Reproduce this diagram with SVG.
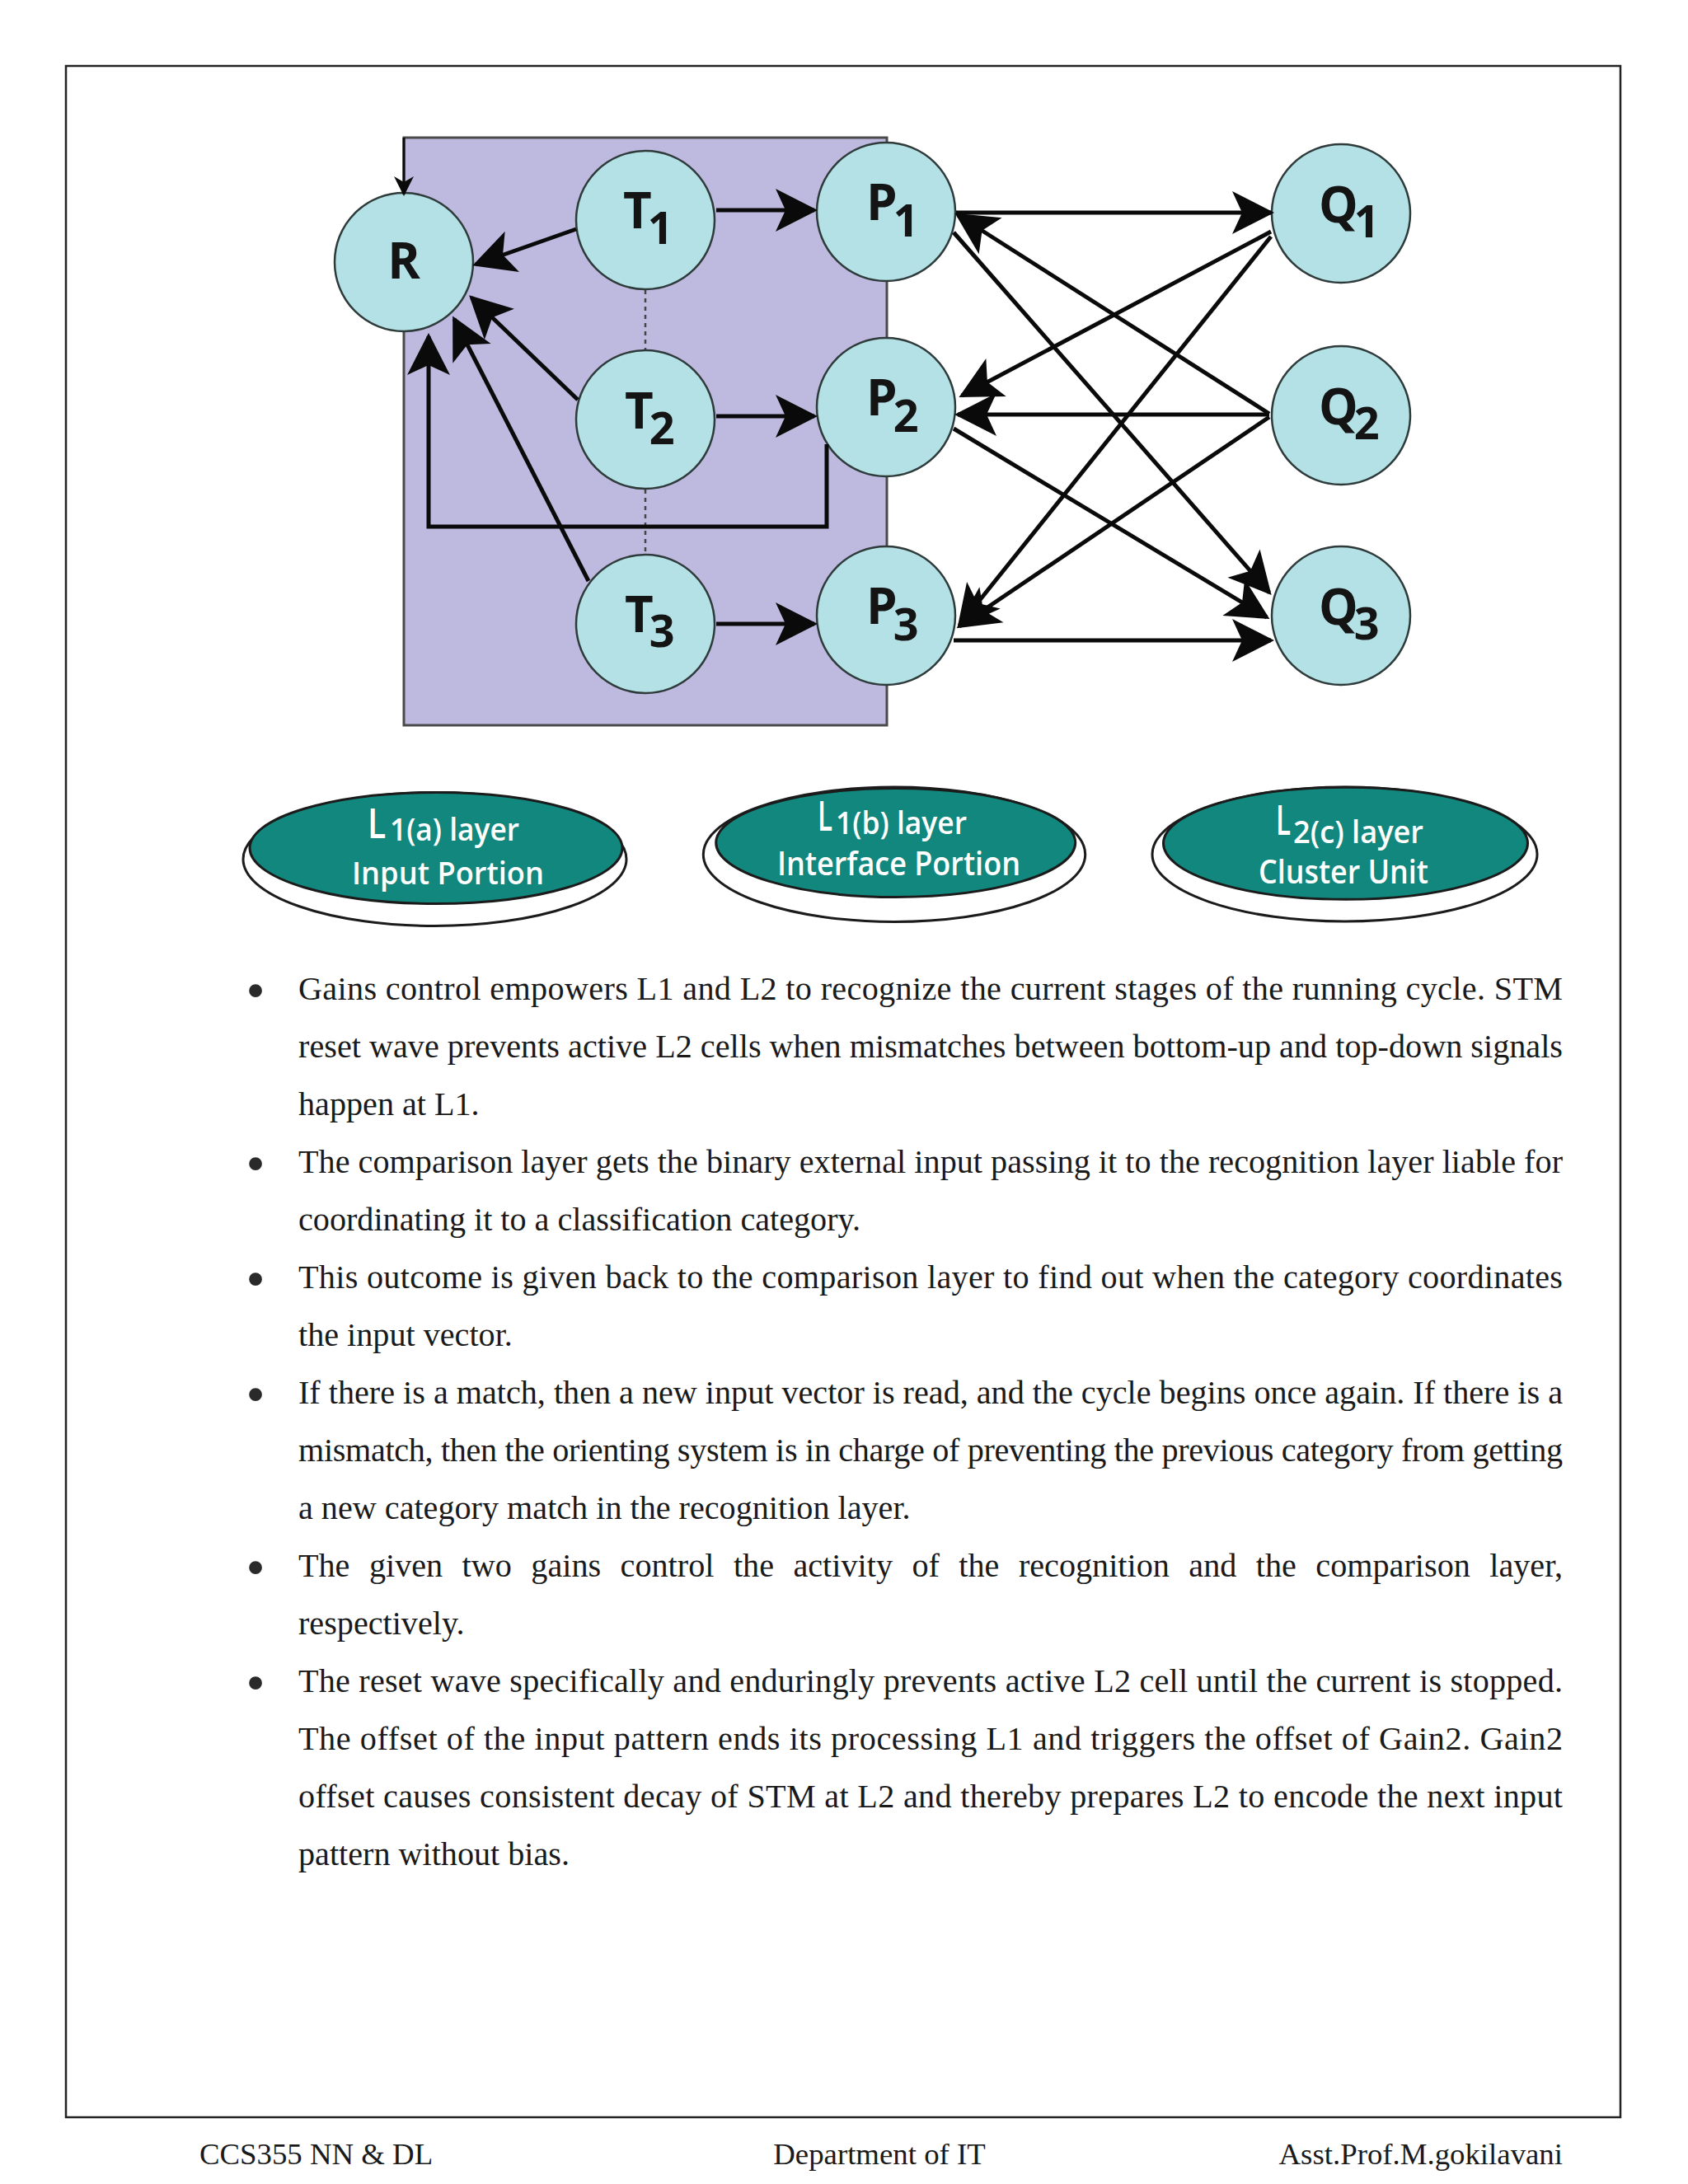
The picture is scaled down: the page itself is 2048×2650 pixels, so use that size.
<svg xmlns="http://www.w3.org/2000/svg" width="2048" height="2650" viewBox="0 0 2048 2650">
<style>
.node{fill:#b3e1e6;stroke:#2f3b3b;stroke-width:2.5}
.lbl{font-family:"Open Sans","Noto Sans",sans-serif;font-weight:700;font-size:60px;fill:#141414}
.sub{font-size:54px}
.con{fill:none;stroke:#0a0a0a;stroke-width:5}
.dot{stroke:#444;stroke-width:2.5;stroke-dasharray:5 5}
.teal{fill:#12877d;stroke:#1b1b1b;stroke-width:3}
.outer{fill:#ffffff;stroke:#1b1b1b;stroke-width:3}
.btxt{font-family:"Open Sans","Noto Sans",sans-serif;font-weight:600;fill:#ffffff}
.body{font-family:"Liberation Serif","Times New Roman",serif;font-size:40.16px;fill:#1a1a1a}
.bul{font-family:"Liberation Serif","Times New Roman",serif;font-size:66px;fill:#2a2a2a}
.foot{font-family:"Liberation Serif","Times New Roman",serif;font-size:36.8px;fill:#1a1a1a}
</style>
<defs>
<marker id="ah" markerUnits="userSpaceOnUse" viewBox="-52 -28 58 56" markerWidth="58" markerHeight="56" refX="0" refY="0" orient="auto">
<path d="M4,0 L-47,-26 L-35,0 L-47,26 Z" fill="#0a0a0a"/>
</marker>
<marker id="ahs" markerUnits="userSpaceOnUse" viewBox="-26 -14 30 28" markerWidth="30" markerHeight="28" refX="0" refY="0" orient="auto">
<path d="M2,0 L-22,-12 L-15,0 L-22,12 Z" fill="#0a0a0a"/>
</marker>
</defs>
<rect width="2048" height="2650" fill="#ffffff"/>
<rect id="page-border" x="80" y="80" width="1886" height="2489" fill="none" stroke="#222" stroke-width="2.5"/>

<g id="layer-box">
<rect x="490" y="167" width="586" height="713" fill="#bebadf" stroke="#4a4a4a" stroke-width="3"/>
<line class="dot" x1="783" y1="352" x2="783" y2="424"/>
<line class="dot" x1="783" y1="594" x2="783" y2="672"/>
</g>

<g id="node-R"><circle class="node" cx="490" cy="318" r="84"/><text class="lbl" x="490" y="338" text-anchor="middle">R</text></g>
<g id="node-T1"><circle class="node" cx="783" cy="267" r="84"/><text class="lbl" x="756" y="277">T<tspan class="sub" dx="-5" dy="19">1</tspan></text></g>
<g id="node-T2"><circle class="node" cx="783" cy="509" r="84"/><text class="lbl" x="758" y="520">T<tspan class="sub" dx="-5" dy="19">2</tspan></text></g>
<g id="node-T3"><circle class="node" cx="783" cy="757" r="84"/><text class="lbl" x="758" y="767">T<tspan class="sub" dx="-5" dy="18">3</tspan></text></g>
<g id="node-P1"><circle class="node" cx="1075" cy="257" r="84"/><text class="lbl" x="1051" y="267">P<tspan class="sub" dx="-5" dy="20">1</tspan></text></g>
<g id="node-P2"><circle class="node" cx="1075" cy="494" r="84"/><text class="lbl" x="1051" y="504">P<tspan class="sub" dx="-5" dy="20">2</tspan></text></g>
<g id="node-P3"><circle class="node" cx="1075" cy="747" r="84"/><text class="lbl" x="1051" y="757">P<tspan class="sub" dx="-5" dy="20">3</tspan></text></g>
<g id="node-Q1"><circle class="node" cx="1627" cy="259" r="84"/><text class="lbl" x="1600" y="270">Q<tspan class="sub" dx="-5" dy="18">1</tspan></text></g>
<g id="node-Q2"><circle class="node" cx="1627" cy="504" r="84"/><text class="lbl" x="1600" y="515">Q<tspan class="sub" dx="-5" dy="18">2</tspan></text></g>
<g id="node-Q3"><circle class="node" cx="1627" cy="747" r="84"/><text class="lbl" x="1600" y="758">Q<tspan class="sub" dx="-5" dy="18">3</tspan></text></g>

<g id="connectors">
<path class="con" d="M699,278 L577,321" marker-end="url(#ah)"/>
<path class="con" d="M701,485 L572,361" marker-end="url(#ah)"/>
<path class="con" d="M714,705 L551,387" marker-end="url(#ah)"/>
<path class="con" d="M1003,539 V639 H520 V408" marker-end="url(#ah)"/>
<path class="con" d="M490,167 V236" style="stroke-width:3" marker-end="url(#ahs)"/>
<path class="con" d="M869,255 L988,255" marker-end="url(#ah)"/>
<path class="con" d="M869,505 L988,505" marker-end="url(#ah)"/>
<path class="con" d="M869,757 L988,757" marker-end="url(#ah)"/>
<path class="con" d="M1160,258 L1542,258" marker-end="url(#ah)"/>
<path class="con" d="M1540,502 L1162,261" marker-end="url(#ah)"/>
<path class="con" d="M1157,282 L1540,719" marker-end="url(#ah)"/>
<path class="con" d="M1542,281 L1167,480" marker-end="url(#ah)"/>
<path class="con" d="M1542,287 L1164,759" marker-end="url(#ah)"/>
<path class="con" d="M1540,503 L1162,503" marker-end="url(#ah)"/>
<path class="con" d="M1540,506 L1164,760" marker-end="url(#ah)"/>
<path class="con" d="M1157,520 L1537,749" marker-end="url(#ah)"/>
<path class="con" d="M1157,777 L1542,777" marker-end="url(#ah)"/>
</g>

<g id="badge-L1a">
<ellipse class="outer" cx="527.5" cy="1042.5" rx="232.5" ry="81"/>
<ellipse class="teal" cx="529" cy="1029" rx="226" ry="67.5"/>
<text class="btxt" transform="translate(446,1017) scale(0.8,1)" font-size="51">L</text>
<text class="btxt" x="473" y="1020" font-size="38" textLength="157" lengthAdjust="spacingAndGlyphs">1(a) layer</text>
<text class="btxt" x="427" y="1073" font-size="38" textLength="233" lengthAdjust="spacingAndGlyphs">Input Portion</text>
</g>
<g id="badge-L1b">
<ellipse class="outer" cx="1085" cy="1036.7" rx="231.7" ry="81.7"/>
<ellipse class="teal" cx="1086.7" cy="1022.5" rx="218" ry="66"/>
<text class="btxt" transform="translate(992,1008) scale(0.65,1)" font-size="51">L</text>
<text class="btxt" x="1014" y="1012" font-size="38" textLength="159" lengthAdjust="spacingAndGlyphs">1(b) layer</text>
<text class="btxt" x="943" y="1062" font-size="40" textLength="295" lengthAdjust="spacingAndGlyphs">Interface Portion</text>
</g>
<g id="badge-L2c">
<ellipse class="outer" cx="1631.5" cy="1036.5" rx="233.5" ry="81.5"/>
<ellipse class="teal" cx="1632.5" cy="1023.3" rx="221" ry="68"/>
<text class="btxt" transform="translate(1548,1013) scale(0.65,1)" font-size="51">L</text>
<text class="btxt" x="1569" y="1023" font-size="38" textLength="158" lengthAdjust="spacingAndGlyphs">2(c) layer</text>
<text class="btxt" x="1527" y="1072" font-size="40" textLength="206" lengthAdjust="spacingAndGlyphs">Cluster Unit</text>
</g>

<g id="bullets" class="bul">
<text x="310" y="1224" text-anchor="middle">•</text>
<text x="310" y="1434" text-anchor="middle">•</text>
<text x="310" y="1574" text-anchor="middle">•</text>
<text x="310" y="1714" text-anchor="middle">•</text>
<text x="310" y="1924" text-anchor="middle">•</text>
<text x="310" y="2064" text-anchor="middle">•</text>
</g>
<g id="body-text" class="body">
<text x="362" y="1213" textLength="1534" lengthAdjust="spacing">Gains control empowers L1 and L2 to recognize the current stages of the running cycle. STM</text>
<text x="362" y="1283" textLength="1534" lengthAdjust="spacing">reset wave prevents active L2 cells when mismatches between bottom-up and top-down signals</text>
<text x="362" y="1353">happen at L1.</text>
<text x="362" y="1423" textLength="1534" lengthAdjust="spacing">The comparison layer gets the binary external input passing it to the recognition layer liable for</text>
<text x="362" y="1493">coordinating it to a classification category.</text>
<text x="362" y="1563" textLength="1534" lengthAdjust="spacing">This outcome is given back to the comparison layer to find out when the category coordinates</text>
<text x="362" y="1633">the input vector.</text>
<text x="362" y="1703" textLength="1534" lengthAdjust="spacing">If there is a match, then a new input vector is read, and the cycle begins once again. If there is a</text>
<text x="362" y="1773" textLength="1534" lengthAdjust="spacing">mismatch, then the orienting system is in charge of preventing the previous category from getting</text>
<text x="362" y="1843">a new category match in the recognition layer.</text>
<text x="362" y="1913" word-spacing="13.4" textLength="1534" lengthAdjust="spacing">The given two gains control the activity of the recognition and the comparison layer,</text>
<text x="362" y="1983">respectively.</text>
<text x="362" y="2053" textLength="1534" lengthAdjust="spacing">The reset wave specifically and enduringly prevents active L2 cell until the current is stopped.</text>
<text x="362" y="2123" textLength="1534" lengthAdjust="spacing">The offset of the input pattern ends its processing L1 and triggers the offset of Gain2. Gain2</text>
<text x="362" y="2193" textLength="1534" lengthAdjust="spacing">offset causes consistent decay of STM at L2 and thereby prepares L2 to encode the next input</text>
<text x="362" y="2263">pattern without bias.</text>
</g>

<g id="footer" class="foot">
<text x="242" y="2626">CCS355 NN &amp; DL</text>
<text x="1067" y="2626" text-anchor="middle">Department of IT</text>
<text x="1896" y="2626" text-anchor="end">Asst.Prof.M.gokilavani</text>
</g>
</svg>
